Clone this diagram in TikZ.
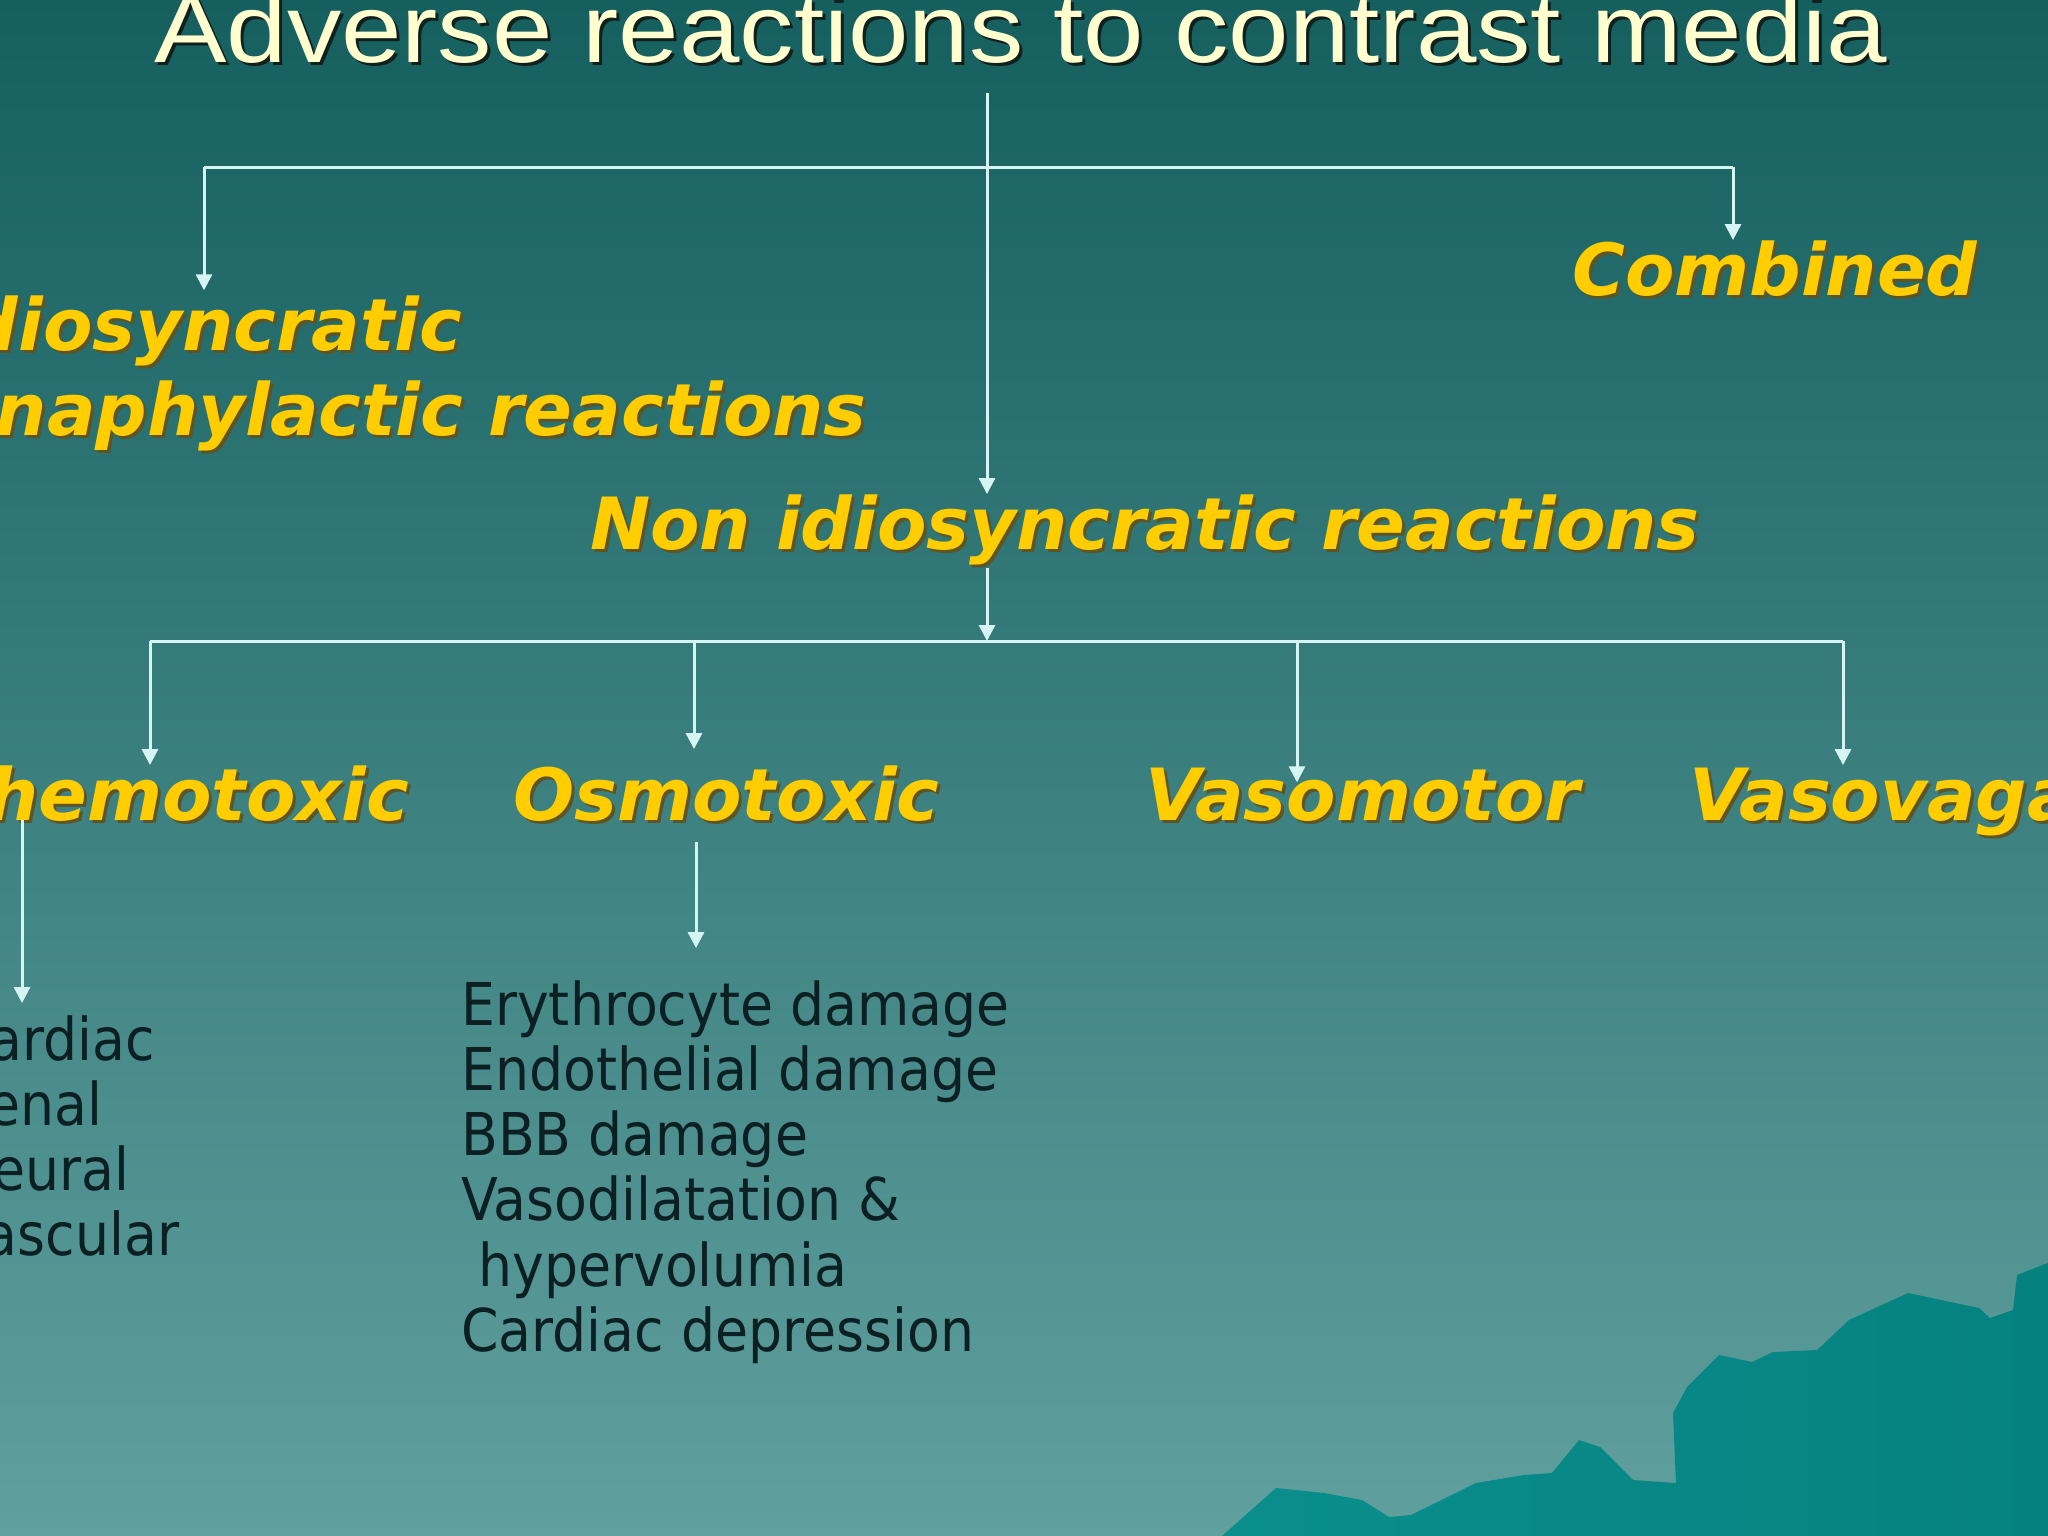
\documentclass[tikz,border=0pt]{standalone}
\usepackage{fontspec}
\setmainfont{DejaVu Sans}
\newfontfamily\titlefont[FakeStretch=1.12]{Liberation Sans}
\newfontfamily\bodyfont[FakeStretch=0.91]{DejaVu Sans}
\newfontfamily\headfont[ItalicFont={* Oblique},BoldItalicFont={* Bold Oblique}]{DejaVu Sans}
\usetikzlibrary{arrows.meta}

\definecolor{bgtop}{RGB}{21,95,95}
\definecolor{bgbottom}{RGB}{96,160,158}
\definecolor{hill}{RGB}{10,142,140}
\definecolor{hilldark}{RGB}{5,130,128}
\definecolor{wire}{RGB}{214,244,244}
\definecolor{gold}{RGB}{255,205,0}
\definecolor{goldshade}{RGB}{95,85,35}
\definecolor{cream}{RGB}{255,255,208}
\definecolor{creamshade}{RGB}{18,32,28}
\definecolor{ink}{RGB}{12,32,36}

\newcommand{\shadowed}[2]{\makebox[0pt][l]{\hspace{3pt}\raisebox{-3pt}{\textcolor{#1}{#2}}}#2}

\begin{document}
\begin{tikzpicture}[x=1pt,y=-1pt,>={Triangle[width=16pt,length=16pt]},
    heading/.style={inner sep=0pt,anchor=base west,text=gold,
      font=\headfont\fontsize{72}{85}\selectfont\bfseries\itshape},
    listing/.style={inner sep=0pt,anchor=base west,text=ink,
      font=\bodyfont\fontsize{59}{65.3}\selectfont},
    link/.style={draw=wire,line width=3pt}]
  \useasboundingbox (0,0) rectangle (2048,1536);
  \clip (0,0) rectangle (2048,1536);
  % backdrop
  \shade[top color=bgtop,bottom color=bgbottom] (0,0) rectangle (2048,1536);
  \shade[left color=hill,right color=hilldark] (1222,1536) -- (1276,1488) -- (1324,1493)
    -- (1362,1500) -- (1389,1517) -- (1411,1515) -- (1476,1483) -- (1524,1475)
    -- (1552,1473) -- (1579,1440) -- (1600,1447) -- (1633,1480) -- (1676,1483)
    -- (1673,1413) -- (1687,1387) -- (1719,1355) -- (1752,1362) -- (1773,1352)
    -- (1817,1350) -- (1849,1320) -- (1908,1293) -- (1979,1308) -- (1990,1318)
    -- (2013,1310) -- (2017,1275) -- (2048,1263) -- (2048,1536) -- cycle;
  % title
  \node[inner sep=0pt,anchor=base west,text=cream,font=\titlefont\fontsize{97}{110}\selectfont]
    (title) at (154,63) {\shadowed{creamshade}{Adverse reactions to contrast media}};
  % headings
  \node[heading] (idio) at (-60,350) {\begin{tabular}[t]{@{}l@{}}\shadowed{goldshade}{Idiosyncratic}\\
    \shadowed{goldshade}{Anaphylactic reactions}\end{tabular}};
  \node[heading] (comb) at (1572,295) {\shadowed{goldshade}{Combined}};
  \node[heading] (nonid) at (590,549) {\shadowed{goldshade}{Non idiosyncratic reactions}};
  \node[heading] (chemo) at (-66,820) {\shadowed{goldshade}{Chemotoxic}};
  \node[heading] (osmo) at (513,820) {\shadowed{goldshade}{Osmotoxic}};
  \node[heading] (vasom) at (1145,820) {\shadowed{goldshade}{Vasomotor}};
  \node[heading] (vasov) at (1689,820) {\shadowed{goldshade}{Vasovagal}};
  % lists
  \node[listing] (chemolist) at (-48,1060) {\begin{tabular}[t]{@{}l@{}}Cardiac\\Renal\\Neural\\Vascular\end{tabular}};
  \node[listing] (osmolist) at (461,1025) {\begin{tabular}[t]{@{}l@{}}Erythrocyte damage\\Endothelial damage\\
    BBB damage\\Vasodilatation \&\\\ hypervolumia\\Cardiac depression\end{tabular}};
  % connectors
  \coordinate (trunk) at (987,93);
  \coordinate (forkL) at (204,167);
  \coordinate (forkR) at (1733,167);
  \coordinate (split) at (987,641);
  \coordinate (rowL) at (150,641);
  \coordinate (rowR) at (1843,641);
  \coordinate (chemodrop) at (22,820);
  \coordinate (osmodrop) at (696,842);
  \draw[link] (forkL) -- (forkR);
  \draw[link,->] (trunk) -- (trunk |- nonid.north);
  \draw[link,->] (forkL) -- (forkL |- idio.north);
  \draw[link,->] (forkR) -- (forkR |- comb.north);
  \draw[link,->] (trunk |- nonid.south) -- (split);
  \draw[link] (rowL) -- (rowR);
  \foreach \x/\n/\s in {150/chemo/0pt,694/osmo/16pt,1297/vasom/-15pt,1843/vasov/0pt}{
    \coordinate (b-\n) at (\x,641);
    \draw[link,->,shorten >=\s] (b-\n) -- (b-\n |- \n.north);
  }
  \draw[link,->,shorten >=11pt] (chemodrop) -- (chemodrop |- chemolist.north);
  \draw[link,->,shorten >=31pt] (osmodrop) -- (osmodrop |- osmolist.north);
\end{tikzpicture}
\end{document}
